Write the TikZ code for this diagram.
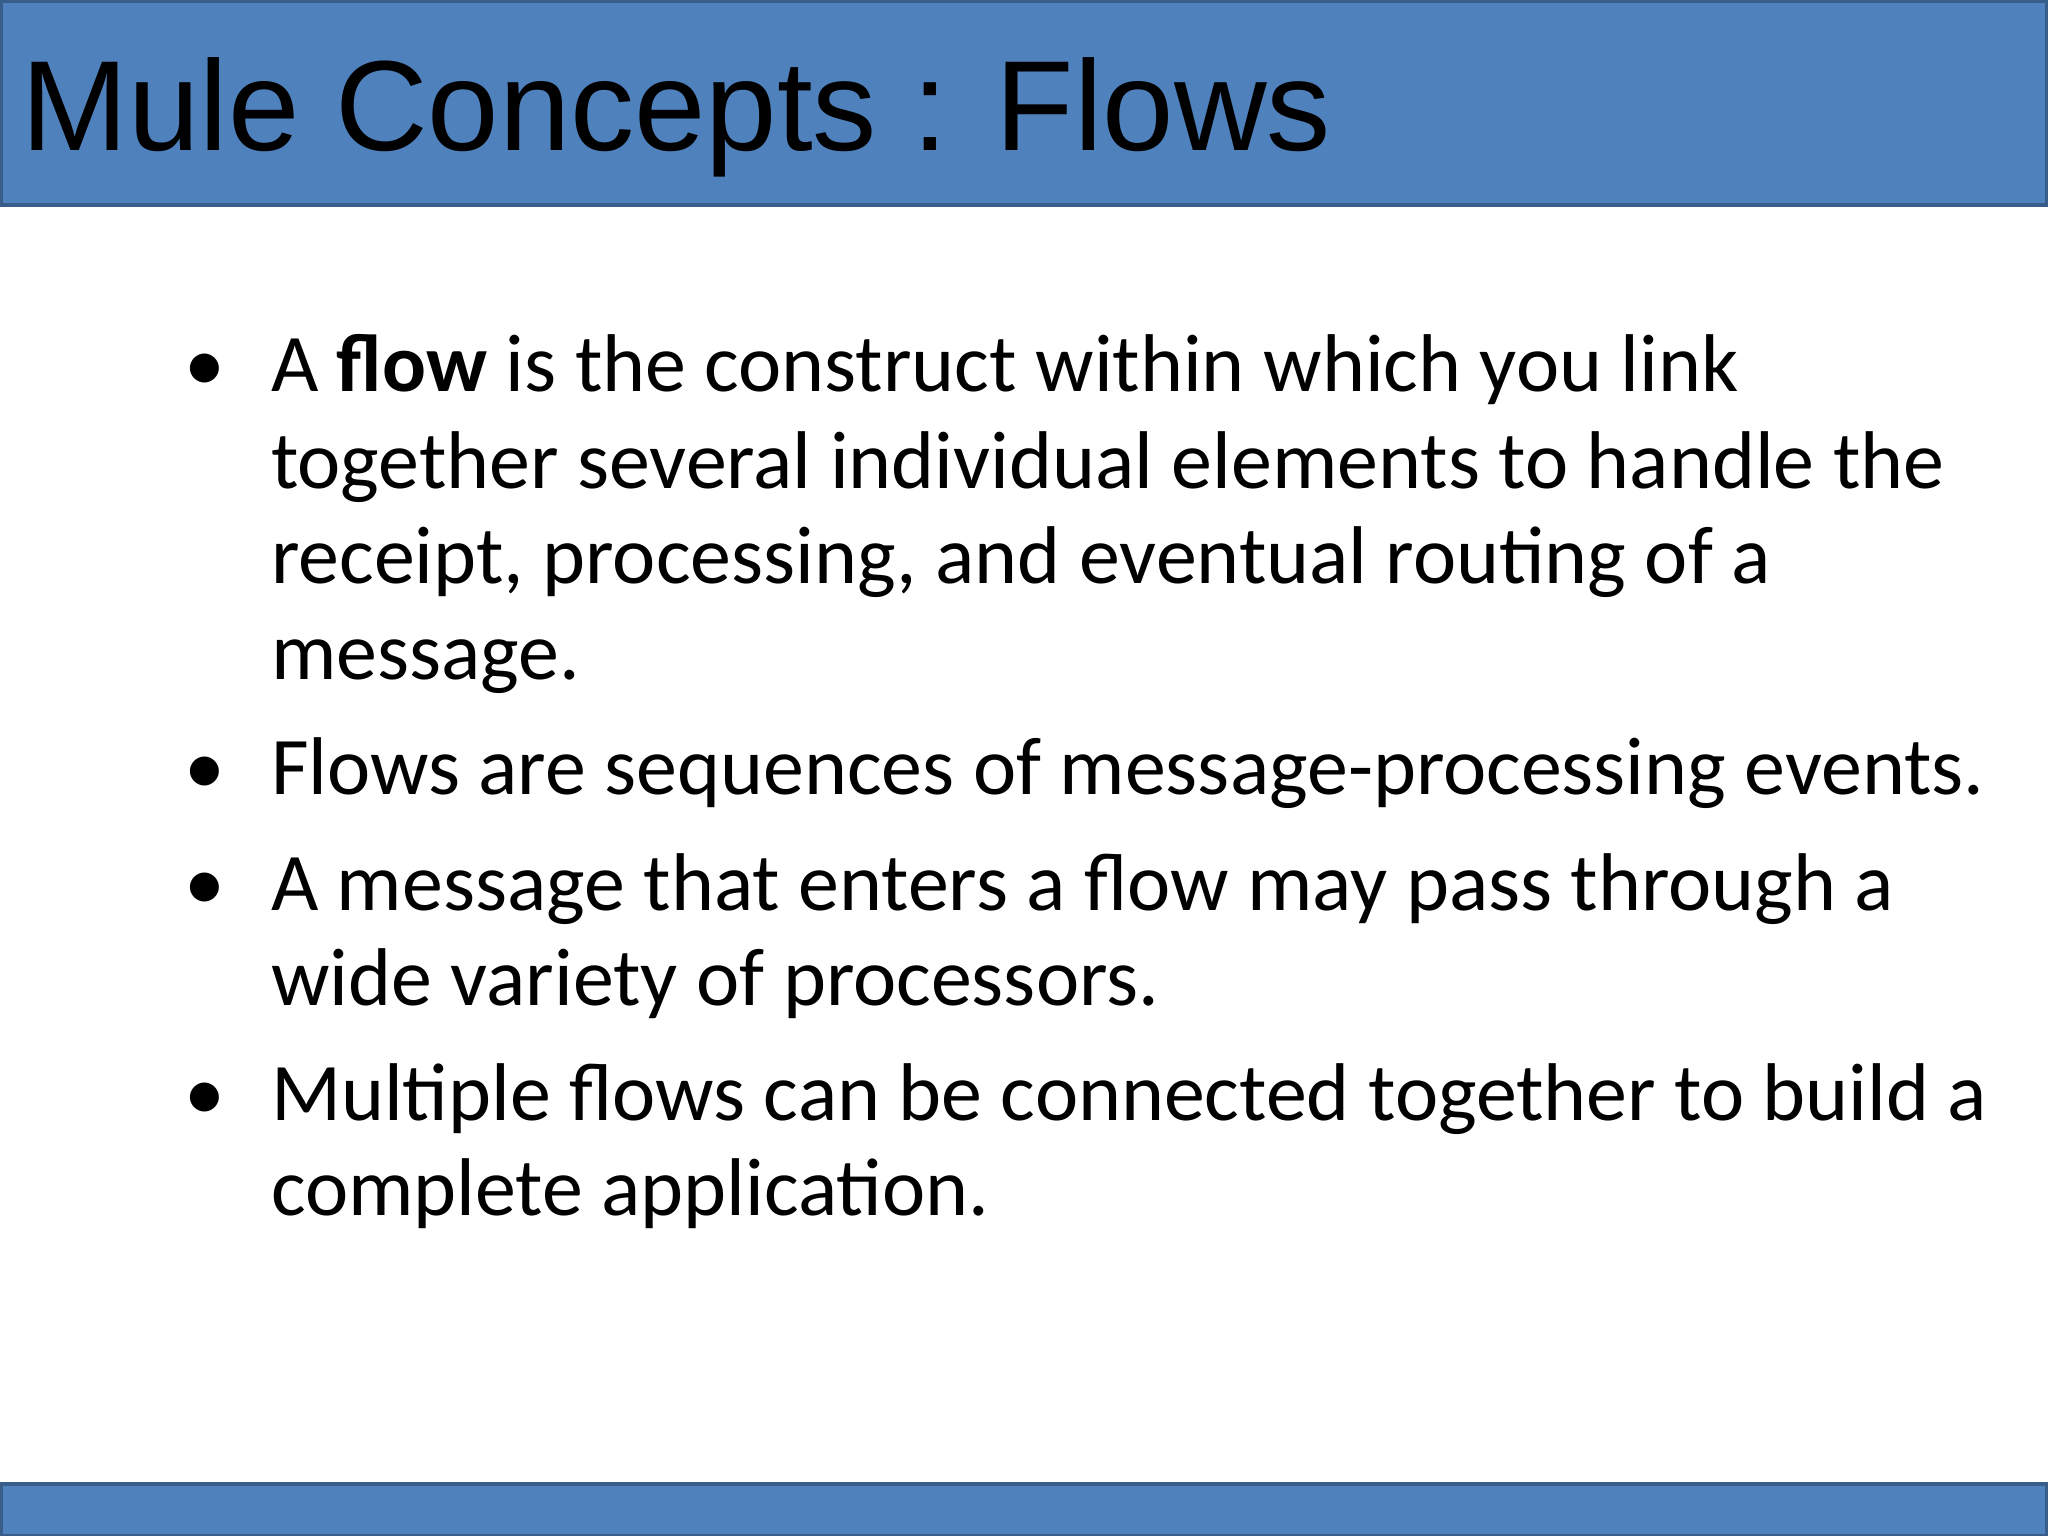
\documentclass[tikz,border=0pt]{standalone}
\usepackage{fontspec}
\setmainfont{Carlito}
\newfontfamily\titlefont{Liberation Sans}
\definecolor{hdr}{HTML}{4F81BD}
\definecolor{hdrb}{HTML}{385D8A}
\begin{document}
\begin{tikzpicture}[x=0.013061cm,y=-0.013061cm,
  ln/.style={anchor=base west,inner sep=0pt,font=\fontsize{23.3pt}{28pt}\selectfont},
  bul/.style={anchor=base,inner sep=0pt,font=\fontsize{23.3pt}{28pt}\selectfont}]
\useasboundingbox (0,0) rectangle (1568,1176);
\fill[white] (0,0) rectangle (1568,1176);
\draw[fill=hdr,draw=hdrb,line width=1.2pt] (1,1) rectangle (1567,157);
\draw[fill=hdr,draw=hdrb,line width=1.2pt] (1,1136) rectangle (1567,1176);
\node[anchor=base west,inner sep=0pt,font=\titlefont\fontsize{36.5pt}{40pt}\selectfont] (title) at (16,115) {Mule Concepts : Flows};
\node[bul] (b1) at (157,300) {•};
\node[ln] (l1) at (207,300) {A \textbf{flow} is the construct within which you link};
\node[ln] (l2) at (207,374) {together several individual elements to handle the};
\node[ln] (l3) at (207,447) {receipt, processing, and eventual routing of a};
\node[ln] (l4) at (207,520) {message.};
\node[bul] (b2) at (157,608) {•};
\node[ln] (l5) at (207,608) {Flows are sequences of message-processing events.};
\node[bul] (b3) at (157,697) {•};
\node[ln] (l6) at (207,697) {A message that enters a flow may pass through a};
\node[ln] (l7) at (207,770) {wide variety of processors.};
\node[bul] (b4) at (157,858) {•};
\node[ln] (l8) at (207,858) {Multiple flows can be connected together to build a};
\node[ln] (l9) at (207,931) {complete application.};
\end{tikzpicture}
\end{document}
